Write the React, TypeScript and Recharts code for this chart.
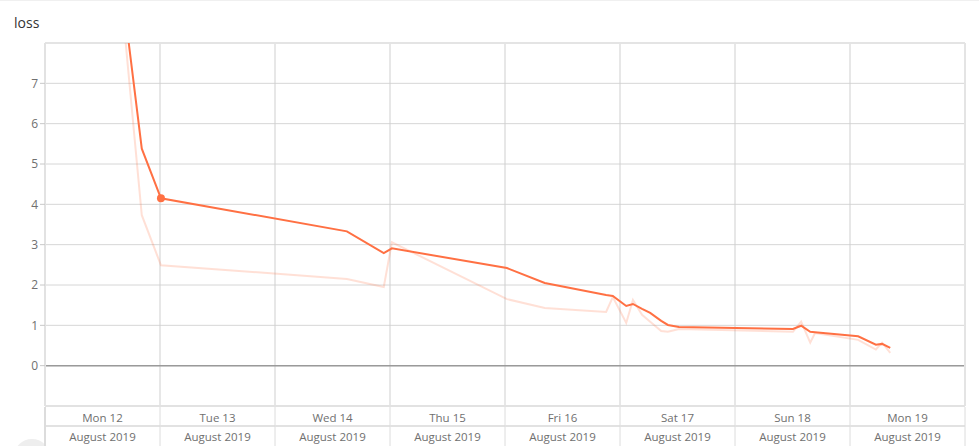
import React from "react";
import {
  LineChart,
  Line,
  XAxis,
  YAxis,
  CartesianGrid,
  ReferenceLine,
} from "recharts";

// hours since Mon 12 August 2019, 00:00
const HOURS = [
  15.4, 20.2, 24.2, 63.0, 70.7, 72.4, 96.4, 104.3, 117.1, 118.5, 121.3, 122.7,
  124.6, 126.3, 128.6, 130.0, 132.3, 156.1, 157.8, 159.7, 160.7, 169.7, 173.4,
  174.7, 176.4,
];

const SMOOTHED = [
  10.0, 5.38, 4.15, 3.33, 2.79, 2.91, 2.42, 2.05, 1.75, 1.73, 1.48, 1.53, 1.41,
  1.31, 1.11, 1.01, 0.96, 0.91, 0.99, 0.84, 0.83, 0.73, 0.52, 0.54, 0.44,
];

const RAW = [
  9.83, 3.73, 2.49, 2.15, 1.95, 3.06, 1.65, 1.43, 1.33, 1.7, 1.06, 1.63, 1.26,
  1.09, 0.86, 0.84, 0.91, 0.84, 1.09, 0.57, 0.81, 0.64, 0.4, 0.57, 0.32,
];

const DAY_LABELS = [
  "Mon 12",
  "Tue 13",
  "Wed 14",
  "Thu 15",
  "Fri 16",
  "Sat 17",
  "Sun 18",
  "Mon 19",
];
const MONTH_LABEL = "August 2019";
const NOON_TICKS = [12, 36, 60, 84, 108, 132, 156, 180];
const MIDNIGHTS = [24, 48, 72, 96, 120, 144, 168];
const Y_TICKS = [0, 1, 2, 3, 4, 5, 6, 7];
const MARKED_INDEX = 2;

const data = HOURS.map((h, i) => ({ hour: h, smoothed: SMOOTHED[i], raw: RAW[i] }));

const ORANGE = "#ff7043";
const HALF_DAY = (920 / 192) * 12;
const FONT = "'Open Sans', 'Noto Sans', sans-serif";

const DayTick = (props: any) => {
  const { x, index } = props;
  const top = 406;
  return (
    <g>
      <line x1={x - HALF_DAY} x2={x + HALF_DAY} y1={425} y2={425} stroke="#e2e2e2" strokeWidth={2} />
      <line x1={x + HALF_DAY} x2={x + HALF_DAY} y1={top} y2={446} stroke="#dcdcdc" strokeWidth={1} />
      {index === 0 && (
        <line x1={x - HALF_DAY} x2={x - HALF_DAY} y1={top} y2={446} stroke="#dcdcdc" strokeWidth={2} />
      )}
      <text x={x} y={421} textAnchor="middle" fill="#707070" fontSize={11.5} fontFamily={FONT}>
        {DAY_LABELS[index]}
      </text>
      <text x={x} y={440} textAnchor="middle" fill="#707070" fontSize={11.5} fontFamily={FONT}>
        {MONTH_LABEL}
      </text>
    </g>
  );
};

const MarkedDot = (props: any) => {
  const { cx, cy, index } = props;
  if (index !== MARKED_INDEX) return <g key={`d-${index}`} />;
  return <circle key={`d-${index}`} cx={cx} cy={cy} r={4} fill={ORANGE} stroke="none" />;
};

export default function App() {
  return (
    <div
      style={{
        position: "absolute",
        left: 0,
        top: 0,
        width: 979,
        height: 446,
        background: "#fff",
        overflow: "hidden",
        borderTop: "1px solid #f0f0f0",
        boxSizing: "border-box",
      }}
    >
      <div
        style={{
          position: "absolute",
          left: 14,
          top: 12,
          fontSize: 14,
          color: "#333",
          fontFamily: FONT,
        }}
      >
        loss
      </div>
      <div
        style={{
          position: "absolute",
          left: 14,
          top: 438,
          width: 36,
          height: 36,
          borderRadius: 18,
          background: "#eeeeee",
        }}
      />
      <LineChart
        width={979}
        height={445}
        data={data}
        margin={{ top: 42, right: 14, bottom: 0, left: 0 }}
        style={{ position: "absolute", left: 0, top: 0 }}
      >
        <CartesianGrid vertical={false} stroke="#d6d6d6" strokeWidth={1} />
        {MIDNIGHTS.map((m) => (
          <ReferenceLine key={m} x={m} stroke="#cfcfcf" strokeWidth={1} />
        ))}
        <ReferenceLine y={0} stroke="#9a9a9a" strokeWidth={1.5} />
        <ReferenceLine y={8} stroke="#e4e4e4" strokeWidth={2} />
        <ReferenceLine x={192} stroke="#e4e4e4" strokeWidth={2} />
        <XAxis
          type="number"
          dataKey="hour"
          domain={[0, 192]}
          ticks={NOON_TICKS}
          interval={0}
          tick={<DayTick />}
          tickLine={false}
          axisLine={{ stroke: "#e2e2e2", strokeWidth: 2 }}
          height={40}
          allowDataOverflow
        />
        <YAxis
          type="number"
          domain={[-1, 8]}
          ticks={Y_TICKS}
          interval={0}
          allowDataOverflow
          width={45}
          tickSize={5}
          tickLine={{ stroke: "#c8c8c8" }}
          axisLine={{ stroke: "#e2e2e2", strokeWidth: 2 }}
          tick={{ fill: "#707070", fontSize: 12, fontFamily: FONT }}
        />
        <Line
          type="linear"
          dataKey="raw"
          stroke={ORANGE}
          strokeOpacity={0.22}
          strokeWidth={2}
          dot={false}
          activeDot={false}
          isAnimationActive={false}
        />
        <Line
          type="linear"
          dataKey="smoothed"
          stroke={ORANGE}
          strokeWidth={2}
          dot={<MarkedDot />}
          activeDot={false}
          isAnimationActive={false}
        />
      </LineChart>
    </div>
  );
}
